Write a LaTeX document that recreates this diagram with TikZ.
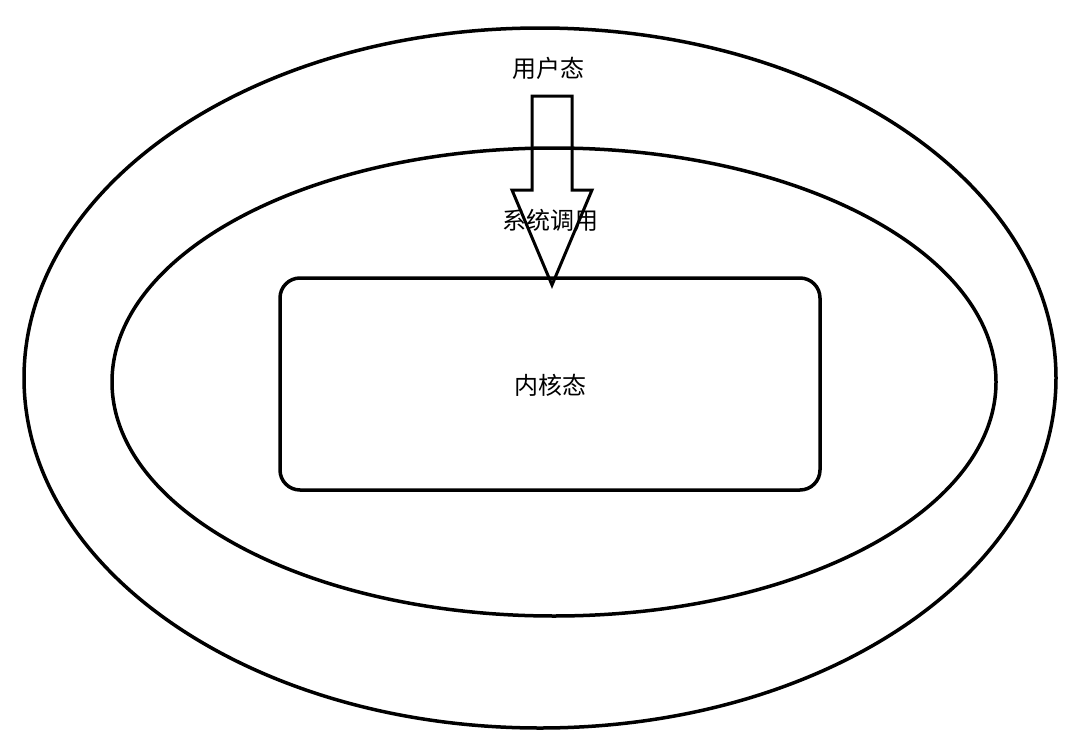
\documentclass[tikz,border=0pt]{standalone}
\usepackage{fontspec}
\newfontfamily\cjk{Noto Sans CJK SC}
\begin{document}
\begin{tikzpicture}[x=1pt,y=-1pt,line width=3.5pt,
  lbl/.style={font=\cjk\fontsize{24}{28}\selectfont,inner sep=0pt}]
\useasboundingbox (0,0) rectangle (1085,755);
\draw (540,378) ellipse [x radius=516, y radius=350];
\draw (554,382) ellipse [x radius=442, y radius=234];
\draw[rounded corners=20pt] (280,278) rectangle (820,490);
\node[lbl] (k) at (550,385) {内核态};
\node[lbl] (u) at (548,68) {用户态};
\node[lbl] (s) at (550,220) {系统调用};
\draw[line width=3pt,line join=miter] (532,96) -- (572,96) -- (572,190) -- (592,190) -- (552,285) -- (512,190) -- (532,190) -- cycle;
\end{tikzpicture}
\end{document}
